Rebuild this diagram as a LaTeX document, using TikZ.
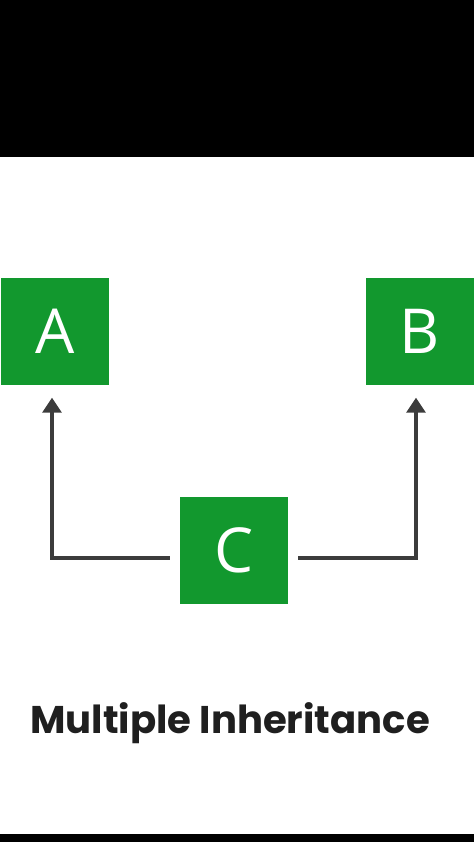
\documentclass[tikz,border=0pt]{standalone}
\usepackage{fontspec}
\setmainfont{Poppins}
\newfontfamily\boxfont{Open Sans}
\usetikzlibrary{arrows.meta}
\definecolor{gfggreen}{RGB}{18,152,46}
\definecolor{linegrey}{RGB}{60,60,60}
\tikzset{
  classbox/.style={fill=gfggreen, draw=none, minimum width=108pt, minimum height=107pt, inner sep=0pt, text=white, font=\boxfont\fontsize{62}{62}\selectfont},
  inherit/.style={draw=linegrey, line width=3.2pt, -{Triangle[length=15pt,width=19pt]}}
}
\begin{document}
\begin{tikzpicture}[x=1pt,y=-1pt]
\useasboundingbox (0,0) rectangle (474,842);
\fill[white] (0,0) rectangle (474,842);
\fill[black] (0,0) rectangle (474,157);
\fill[black] (0,834) rectangle (474,842);
\node[classbox] (A) at (55,331) {A};
\node[classbox] (B) at (419.5,331) {B};
\node[classbox] (C) at (234,550.5) {C};
\coordinate (cl) at ([xshift=-10pt]C.west |- 0,558);
\coordinate (cr) at ([xshift=10pt]C.east |- 0,558);
\coordinate (ta) at ([yshift=-13pt]A.south -| 52,0);
\coordinate (tb) at ([yshift=-13pt]B.south -| 416,0);
\draw[inherit] (cl) -| (ta);
\draw[inherit] (cr) -| (tb);
\node[font=\fontsize{38.6}{38.6}\selectfont\bfseries, text=black!88, anchor=base west, inner sep=0pt] (title) at (30,733) {Multiple Inheritance};
\end{tikzpicture}
\end{document}
